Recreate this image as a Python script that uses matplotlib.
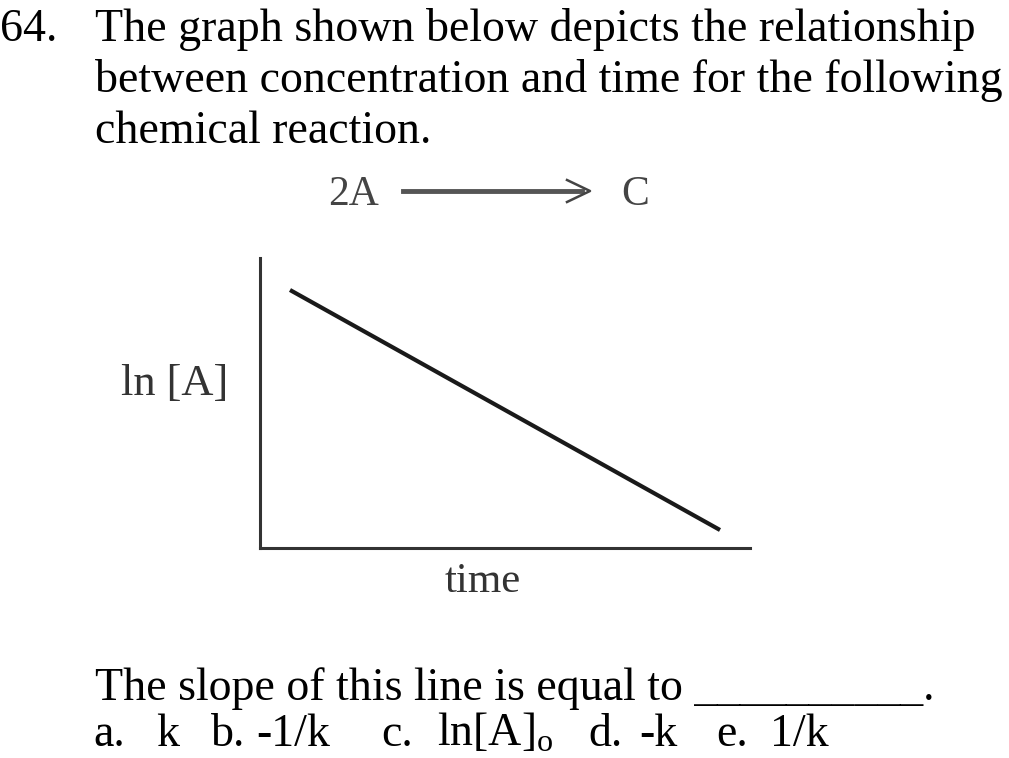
import matplotlib.pyplot as plt
from matplotlib.lines import Line2D

plt.rcParams['font.family'] = ['Liberation Serif', 'DejaVu Serif']
plt.rcParams['mathtext.fontset'] = 'custom'
plt.rcParams['mathtext.rm'] = 'Liberation Serif'
plt.rcParams['mathtext.it'] = 'Liberation Serif:italic'

W, H = 1009, 758

# donnees de la droite ln[A] = f(t)
time = [1, 10]
ln_a = [9, 1]

question = ["The graph shown below depicts the relationship",
            "between concentration and time for the following",
            "chemical reaction."]
choices = ["a.", "k", "b.", "-1/k", "c.", r"ln[A]$_\mathrm{o}$",
           "d.", "-k", "e.", "1/k"]
choices_x = [93, 156, 211, 256, 381, 437, 588, 639, 716, 770]


def px(x, y):
    # coordonnees pixel -> fraction de figure
    return x / W, 1 - y / H


fig = plt.figure(figsize=(W / 100, H / 100), dpi=100)

# texte de la question
fig.text(*px(0, 41), "64.", fontsize=33, va='baseline')
for i, line in enumerate(question):
    fig.text(*px(95, 41 + 51 * i), line, fontsize=33, va='baseline')

# reaction 2A -> C
grey = '#444444'
fig.text(*px(328, 205), "2A", fontsize=30, va='baseline', color=grey)
fig.text(*px(621, 205), "C", fontsize=30, va='baseline', color=grey)
xs, ys = zip(px(403, 191), px(582, 191))
fig.add_artist(Line2D(xs, ys, lw=3.5, color='#555555'))
xs, ys = zip(px(567, 180), px(590, 191), px(567, 202))
fig.add_artist(Line2D(xs, ys, lw=1.8, color=grey))

# graphe
left, right, top, bottom = 260, 750, 258, 548
ax = fig.add_axes([left / W, 1 - bottom / H, (right - left) / W, (bottom - top) / H])
ax.plot(time, ln_a, color='#1a1a1a', lw=3, solid_capstyle='butt')

# limites pour placer la droite comme sur l'image
x0, x1 = 30, 460      # pixels depuis l'axe vertical
y0, y1 = 258, 18      # pixels depuis l'axe horizontal
aw, ah = right - left, bottom - top
sx = (time[1] - time[0]) / ((x1 - x0) / aw)
xmin = time[0] - x0 / aw * sx
ax.set_xlim(xmin, xmin + sx)
sy = (ln_a[0] - ln_a[1]) / ((y0 - y1) / ah)
ymin = ln_a[1] - y1 / ah * sy
ax.set_ylim(ymin, ymin + sy)

for s in ['top', 'right']:
    ax.spines[s].set_visible(False)
for s in ['left', 'bottom']:
    ax.spines[s].set_linewidth(2.2)
    ax.spines[s].set_color('#333333')
ax.set_xticks([])
ax.set_yticks([])

fig.text(*px(121, 395), "ln [A]", fontsize=32, va='baseline', color='#333333')
fig.text(*px(445, 592), "time", fontsize=31, va='baseline', color='#333333')

# reponse
fig.text(*px(95, 700), "The slope of this line is equal to __________.",
         fontsize=33, va='baseline')
for x, c in zip(choices_x, choices):
    fig.text(*px(x, 746), c, fontsize=33, va='baseline')

fig.savefig("out.png", dpi=100)
